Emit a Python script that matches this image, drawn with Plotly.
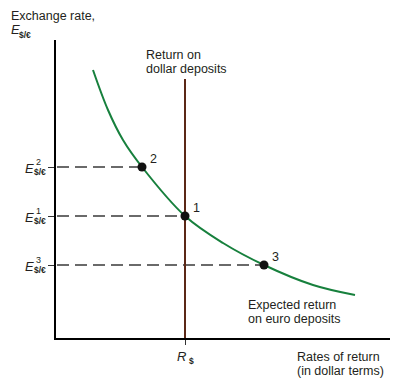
import plotly.graph_objects as go

# ---- data (arbitrary units) ----
curve_x = [37, 52, 67, 86, 129, 167, 208, 257, 299]
curve_y = [268, 228, 198, 171, 122, 95, 73, 53, 43]
point_labels = ["2", "1", "3"]
point_x = [86, 129, 208]
point_y = [171, 122, 73]
r_dollar = 129
dollar_line_top = 259
x_range = [0, 334]
y_range = [0, 298]

FONT = "Liberation Sans, Arial, Helvetica, sans-serif"
TXT = "#231f20"
GREEN = "#17803d"
BROWN = "#5b2817"

fig = go.Figure()

# dashed guide lines from the y axis to each point
dx, dy = [], []
for px, py in zip(point_x, point_y):
    dx += [1, px, None]
    dy += [py, py, None]
fig.add_trace(go.Scatter(x=dx, y=dy, mode="lines",
                         line=dict(color="#3a3a3a", width=1.4, dash="12px,6px"),
                         hoverinfo="skip", showlegend=False))

# return on dollar deposits (vertical line)
fig.add_trace(go.Scatter(x=[r_dollar, r_dollar], y=[0, dollar_line_top], mode="lines",
                         line=dict(color=BROWN, width=2), hoverinfo="skip", showlegend=False))

# expected return on euro deposits (curve)
fig.add_trace(go.Scatter(x=curve_x, y=curve_y, mode="lines",
                         line=dict(color=GREEN, width=2, shape="spline", smoothing=1.0),
                         hoverinfo="skip", showlegend=False))

# equilibrium points
fig.add_trace(go.Scatter(x=point_x, y=point_y, mode="markers",
                         marker=dict(color="#111111", size=9),
                         hoverinfo="skip", showlegend=False))

ann = []
def txt(text, x, y, size=12.5, xref="paper", yref="paper", xanchor="left", yanchor="middle", xshift=0, yshift=0):
    ann.append(dict(text=text, x=x, y=y, xref=xref, yref=yref, xanchor=xanchor, yanchor=yanchor,
                    xshift=xshift, yshift=yshift, showarrow=False,
                    font=dict(family=FONT, size=size, color=TXT)))

W = 334.0
H = 298.0
def px2x(p):
    return (p - 56) / W
def py2y(p):
    return (338 - p) / H

# axis title (y)
txt("Exchange rate,", px2x(9), py2y(16))
txt("<i>E</i>", px2x(9), py2y(30), size=13)
txt("<b>$/€</b>", px2x(17), py2y(35), size=8.5)

# dollar deposits label
txt("Return on", px2x(144), py2y(55))
txt("dollar deposits", px2x(144), py2y(69))

# euro deposits label
txt("Expected return", px2x(246), py2y(305))
txt("on euro deposits", px2x(246), py2y(319))

# x axis title
txt("Rates of return", px2x(295), py2y(357))
txt("(in dollar terms)", px2x(295), py2y(371))

# R$ tick label
txt("<i>R</i>", r_dollar, py2y(356), size=13, xref="x", xanchor="right", xshift=3)
txt("<b>$</b>", r_dollar, py2y(361), size=8.5, xref="x", xanchor="left", xshift=2)

# y tick labels E^n_{$/€}
for lab, yv in zip(point_labels, point_y):
    txt("<i>E</i>", px2x(23), yv, size=13, yref="y", yshift=-1)
    txt(lab, px2x(34), yv, size=9, yref="y", yshift=5)
    txt("<b>$/€</b>", px2x(32), yv, size=8.5, yref="y", yshift=-5)

# point number labels
for lab, xv, yv in zip(point_labels, point_x, point_y):
    txt(lab, xv, yv, size=12.5, xref="x", yref="y", xshift=6, yshift=8)

# page body has an 8px margin, so the figure is 8px smaller and the left/top margins 8px less
fig.update_layout(
    width=390, height=377,
    margin=dict(l=48, r=8, t=32, b=47, pad=0),
    paper_bgcolor="white", plot_bgcolor="white",
    annotations=ann,
    xaxis=dict(range=x_range, showgrid=False, zeroline=False, showline=True,
               linecolor="black", linewidth=2, tickvals=[r_dollar], ticks="outside",
               ticklen=5, tickwidth=1, tickcolor="#333", showticklabels=False, fixedrange=True),
    yaxis=dict(range=y_range, showgrid=False, zeroline=False, showline=True,
               linecolor="black", linewidth=2, tickvals=point_y, ticks="outside",
               ticklen=6, tickwidth=1, tickcolor="#333", showticklabels=False, fixedrange=True),
)

fig.write_html("out.html", config={"displayModeBar": False})
